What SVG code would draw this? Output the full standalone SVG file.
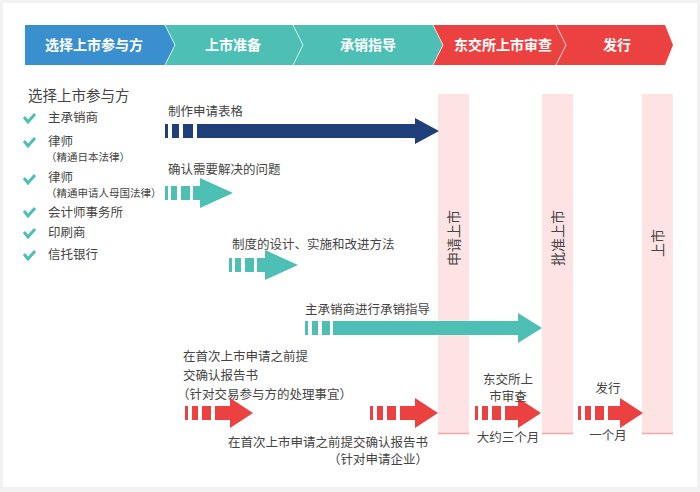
<svg xmlns="http://www.w3.org/2000/svg" width="700" height="492" viewBox="0 0 700 492">
<style>
text{font-family:"Noto Sans CJK SC","Noto Sans",sans-serif;fill:#444}
.h{fill:#fff;font-size:14px;text-anchor:middle;font-weight:bold}
.t{font-size:12.5px}
.s{font-size:10.5px}
.c{font-size:12.5px;text-anchor:middle}
.v{font-size:14px;text-anchor:middle}
.col{fill:#fde3e3}
.navy{fill:#1f3f7a}.teal{fill:#4dbfb4}.red{fill:#ec4141}
.chk{fill:none;stroke:#4dbfb4;stroke-width:3}
</style>
<rect width="700" height="492" fill="#f2f2f2"/>
<rect x="3" y="3" width="694" height="484" fill="#fff"/>
<g id="banner">
<polygon points="25,25 165,25 175,45 165,65 25,65" fill="#3a8fce"/>
<polygon points="165,25 293,25 303,45 293,65 165,65 175,45" fill="#4dbfb4"/>
<polygon points="293,25 433,25 443,45 433,65 293,65 303,45" fill="#4dbfb4"/>
<polygon points="433,25 556,25 566,45 556,65 433,65 443,45" fill="#ec4141"/>
<polygon points="556,25 665,25 673,45 665,65 556,65 566,45" fill="#ec4141"/>
<path d="M165,25 L175,45 L165,65 M293,25 L303,45 L293,65 M433,25 L443,45 L433,65 M556,25 L566,45 L556,65" stroke="#fff" stroke-width="1" fill="none" opacity="0.7"/>
<text class="h" x="94" y="50">选择上市参与方</text>
<text class="h" x="233" y="50">上市准备</text>
<text class="h" x="368" y="50">承销指导</text>
<text class="h" x="503" y="50">东交所上市审查</text>
<text class="h" x="617" y="50">发行</text>
</g>
<g id="columns">
<rect class="col" x="438" y="94" width="31" height="340"/>
<rect class="col" x="542" y="94" width="31" height="340"/>
<rect class="col" x="642" y="94" width="31" height="340"/>
<path d="M438,433.5h31M542,433.5h31M642,433.5h31" stroke="#f2a8a8" stroke-width="1.5"/>
<text class="v" transform="translate(459,238) rotate(-90)">申请上市</text>
<text class="v" transform="translate(563,238) rotate(-90)">批准上市</text>
<text class="v" transform="translate(663,243) rotate(-90)">上市</text>
</g>
<g id="list">
<text x="28" y="101" font-size="14.5">选择上市参与方</text>
<path class="chk" d="M24,117l4,5l7,-8M24,141l4,5l7,-8M24,178l4,5l7,-8M24,211l4,5l7,-8M24,232l4,5l7,-8M24,254l4,5l7,-8"/>
<text class="t" x="48" y="122">主承销商</text>
<text class="t" x="48" y="146">律师</text>
<text class="s" x="46" y="161">（精通日本法律）</text>
<text class="t" x="48" y="182">律师</text>
<text class="s" x="46" y="197">（精通申请人母国法律）</text>
<text class="t" x="48" y="217">会计师事务所</text>
<text class="t" x="48" y="237">印刷商</text>
<text class="t" x="48" y="259">信托银行</text>
</g>
<g id="connectors">
<g class="navy"><rect x="165" y="124" width="3" height="14"/><rect x="172" y="124" width="7" height="14"/><rect x="183" y="124" width="10" height="14"/><polygon points="197,124 415,124 415,118 439,131 415,144 415,138 197,138"/></g>
<g class="teal"><rect x="165" y="186" width="3" height="14"/><rect x="171" y="186" width="6" height="14"/><rect x="181" y="186" width="9" height="14"/><polygon points="193,186 200,186 200,178 233,193 200,208 200,200 193,200"/></g>
<g class="teal"><rect x="229" y="258" width="3" height="14"/><rect x="235" y="258" width="6" height="14"/><rect x="245" y="258" width="9" height="14"/><polygon points="257,258 265,258 265,250 298,265 265,280 265,272 257,272"/></g>
<g class="teal"><rect x="305" y="321" width="3" height="14"/><rect x="312" y="321" width="6" height="14"/><rect x="322" y="321" width="8" height="14"/><polygon points="333,321 518,321 518,313 542,328 518,343 518,335 333,335"/></g>
<g class="red"><rect x="185" y="406" width="3" height="14"/><rect x="192" y="406" width="6" height="14"/><rect x="202" y="406" width="9" height="14"/><polygon points="215,406 230,406 230,398 253,413 230,428 230,420 215,420"/></g>
<g class="red"><rect x="370" y="406" width="3" height="14"/><rect x="377" y="406" width="6" height="14"/><rect x="387" y="406" width="9" height="14"/><polygon points="400,406 415,406 415,398 438,413 415,428 415,420 400,420"/></g>
<g class="red"><rect x="475" y="406" width="3" height="14"/><rect x="482" y="406" width="6" height="14"/><rect x="492" y="406" width="9" height="14"/><polygon points="505,406 518,406 518,398 541,413 518,428 518,420 505,420"/></g>
<g class="red"><rect x="578" y="406" width="3" height="14"/><rect x="585" y="406" width="6" height="14"/><rect x="595" y="406" width="9" height="14"/><polygon points="608,406 620,406 620,398 643,413 620,428 620,420 608,420"/></g>
</g>
<g id="labels">
<text class="t" x="168" y="116">制作申请表格</text>
<text class="t" x="168" y="174">确认需要解决的问题</text>
<text class="t" x="232" y="249">制度的设计、实施和改进方法</text>
<text class="t" x="305" y="314">主承销商进行承销指导</text>
<text class="t" x="183" y="361">在首次上市申请之前提</text>
<text class="t" x="183" y="380">交确认报告书</text>
<text class="t" x="177" y="399">（针对交易参与方的处理事宜）</text>
<text class="t" x="228" y="447">在首次上市申请之前提交确认报告书</text>
<text class="t" x="328" y="464">（针对申请企业）</text>
<text class="c" x="508" y="384">东交所上</text>
<text class="c" x="508" y="401">市审查</text>
<text class="c" x="508" y="442">大约三个月</text>
<text class="c" x="608" y="393">发行</text>
<text class="c" x="608" y="440">一个月</text>
</g>
</svg>
